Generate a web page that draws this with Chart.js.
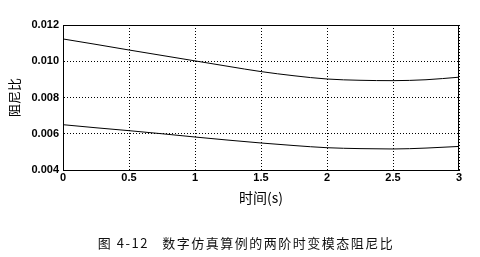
<!DOCTYPE html>
<html>
<head>
<meta charset="utf-8">
<script src="https://cdn.jsdelivr.net/npm/chart.js@4"></script>
<style>
  body { margin: 0; background: #fff; }
  #wrap { position: relative; width: 480px; height: 257px; }
  #caption {
    position: absolute; left: 6px; width: 480px; top: 233px;
    text-align: center; font-family: "Noto Sans CJK SC", serif;
    font-size: 13px; color: #111; letter-spacing: 1.5px;
  }
</style>
</head>
<body>
<div id="wrap">
  <canvas id="chart" width="480" height="257"></canvas>
  <div id="caption">图 4-12&nbsp;&nbsp;&nbsp;数字仿真算例的两阶时变模态阻尼比</div>
</div>
<script>
// time (s)
var times = [0, 0.25, 0.5, 0.75, 1, 1.25, 1.5, 1.75, 2, 2.25, 2.5, 2.75, 3];
// first mode damping ratio
var mode1 = [0.01123, 0.01093, 0.01062, 0.01032, 0.01002, 0.00972, 0.00943, 0.00920, 0.00902, 0.00895, 0.00893, 0.00898, 0.00912];
// second mode damping ratio
var mode2 = [0.00650, 0.00633, 0.00617, 0.00600, 0.00582, 0.00565, 0.00549, 0.00535, 0.00523, 0.00518, 0.00516, 0.00521, 0.00530];
var xTicks = [0, 0.5, 1, 1.5, 2, 2.5, 3];
var yTicks = [0.004, 0.006, 0.008, 0.010, 0.012];

function toPoints(xs, ys) {
    return xs.map(function(x, i) { return {x: x, y: ys[i]}; });
}

// draws the solid box around the plot area
var frame = {
    id: 'frame',
    afterDraw: function(chart) {
        var a = chart.chartArea, ctx = chart.ctx;
        ctx.save();
        ctx.strokeStyle = '#000';
        ctx.lineWidth = 1;
        ctx.strokeRect(a.left + 0.5, a.top + 0.5, a.right - a.left - 1, a.bottom - a.top);
        ctx.restore();
    }
};

var tickFont = {family: '"Liberation Sans", Arial', size: 11, weight: 'bold'};

new Chart(document.getElementById('chart').getContext('2d'), {
    type: 'line',
    data: {
        datasets: [
            {data: toPoints(times, mode1), borderColor: '#000', borderWidth: 1, pointRadius: 0, tension: 0.4, cubicInterpolationMode: 'monotone'},
            {data: toPoints(times, mode2), borderColor: '#000', borderWidth: 1, pointRadius: 0, tension: 0.4, cubicInterpolationMode: 'monotone'}
        ]
    },
    options: {
        responsive: false,
        animation: false,
        layout: {padding: {left: 0, right: 21, top: 25, bottom: 47}},
        plugins: {legend: {display: false}, tooltip: {enabled: false}},
        scales: {
            x: {
                type: 'linear', min: 0, max: 3,
                afterBuildTicks: function(s) { s.ticks = xTicks.map(function(v) { return {value: v}; }); },
                afterFit: function(s) { s.height = 40; },
                ticks: {color: '#000', font: tickFont, padding: 1, maxRotation: 0,
                        callback: function(v) { return String(v); }},
                grid: {color: '#000', lineWidth: 1, tickLength: 0},
                border: {color: '#000', dash: [1, 2]},
                title: {display: true, text: '时间(s)', color: '#000', padding: {top: 4},
                        font: {family: '"Noto Sans CJK SC"', size: 14, weight: 'normal'}}
            },
            y: {
                min: 0.004, max: 0.012,
                afterBuildTicks: function(s) { s.ticks = yTicks.map(function(v) { return {value: v}; }); },
                afterFit: function(s) { s.width = 63; },
                ticks: {color: '#000', font: tickFont, padding: 4,
                        callback: function(v) { return v.toFixed(3); }},
                grid: {color: '#000', lineWidth: 1, tickLength: 0},
                border: {color: '#000', dash: [1, 2]},
                title: {display: true, text: '阻尼比', color: '#000', padding: {top: 6, bottom: 6},
                        font: {family: '"Noto Sans CJK SC"', size: 13, weight: 'normal'}}
            }
        }
    },
    plugins: [frame]
});
</script>
</body>
</html>
